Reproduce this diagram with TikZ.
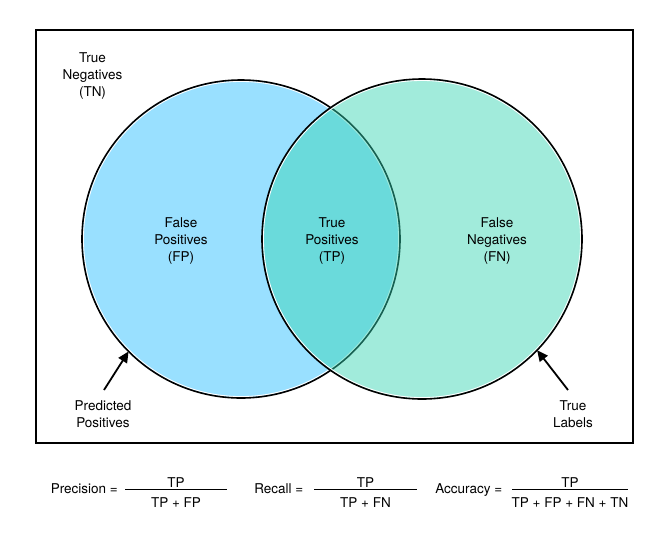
\documentclass[tikz,border=0pt]{standalone}
\usepackage{fontspec}
\setmainfont{TeX Gyre Heros}
\usetikzlibrary{arrows.meta}
\definecolor{leftblue}{RGB}{153,224,255}
\definecolor{rightgreen}{RGB}{51,211,177}
\tikzset{
  lbl/.style={align=center, inner sep=0pt},
  venn/.style={circle, inner sep=0pt, outer sep=0pt},
  rim/.style={white, line width=1pt},
  outline/.style={black, line width=1.6pt},
  pointer/.style={line width=1.8pt, -{Triangle[length=11pt,width=10pt]}},
  fbar/.style={line width=1pt},
  ftxt/.style={inner sep=0pt, anchor=base},
}
\begin{document}
\begin{tikzpicture}[x=1pt,y=-1pt,font=\fontsize{13.5}{17}\selectfont]
\useasboundingbox (0,0) rectangle (672,542);
% frame
\draw[line width=2pt] (36,30) rectangle (633,443);
% left circle
\node[venn, minimum size=318pt, fill=leftblue] (L) at (241,239) {};
\draw[rim] (L.center) circle[radius=157.6pt];
\draw[outline] (L.center) circle[radius=159pt];
% right circle
\node[venn, minimum size=320pt, fill=rightgreen, fill opacity=0.46] (R) at (422,239) {};
\draw[rim] (R.center) circle[radius=158.6pt];
\draw[outline] (R.center) circle[radius=160pt];
% labels
\node[lbl] (tn) at (92.5,76) {True\\Negatives\\(TN)};
\node[lbl] (fp) at (181,241) {False\\Positives\\(FP)};
\node[lbl] (tp) at (332,241) {True\\Positives\\(TP)};
\node[lbl] (fn) at (497,241) {False\\Negatives\\(FN)};
\node[lbl] (pp) at (103,414) {Predicted\\Positives};
\node[lbl] (tl) at (573,414) {True\\Labels};
% arrows
\coordinate (ppt) at (104,390);
\coordinate (tlt) at (568,390);
\draw[pointer] (ppt) -- (L.225);
\draw[pointer] (tlt) -- (R.-44);
% formulas
\node[ftxt, anchor=base east] (prec) at (118,493) {Precision =};
\node[ftxt] (precn) at (176,487) {TP};
\node[ftxt] (precd) at (176,507) {TP + FP};
\draw[fbar] (125,489.5) -- (227,489.5);
\node[ftxt, anchor=base east] (rec) at (303.5,493) {Recall =};
\node[ftxt] (recn) at (365.5,487) {TP};
\node[ftxt] (recd) at (365.5,507) {TP + FN};
\draw[fbar] (314,489.5) -- (417,489.5);
\node[ftxt, anchor=base east] (acc) at (502.5,493) {Accuracy =};
\node[ftxt] (accn) at (570,487) {TP};
\node[ftxt] (accd) at (570,507) {TP + FP + FN + TN};
\draw[fbar] (512,489.5) -- (628,489.5);
\end{tikzpicture}
\end{document}
